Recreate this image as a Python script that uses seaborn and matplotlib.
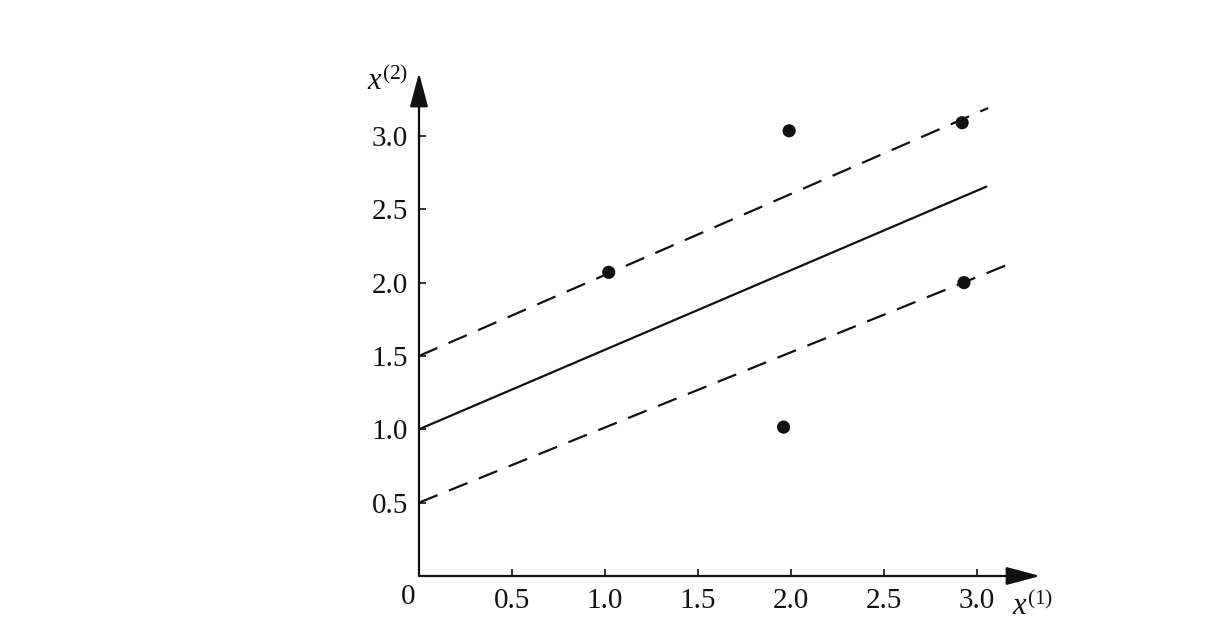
import seaborn as sns
import numpy as np
import matplotlib.pyplot as plt
import pandas as pd

# sample points
pt_x1 = [1.02, 1.99, 2.92, 2.93, 1.96]
pt_x2 = [2.07, 3.035, 3.09, 2.00, 1.015]

# separating line and the two margin lines (start / end points)
sep_x1 = [0.0, 3.05]
sep_x2 = [1.0, 2.654]
upper_x1 = [0.0, 3.06]
upper_x2 = [1.5, 3.19]
lower_x1 = [0.0, 3.18]
lower_x2 = [0.5, 2.13]

xticks = [0.5, 1.0, 1.5, 2.0, 2.5, 3.0]
yticks = [0.5, 1.0, 1.5, 2.0, 2.5, 3.0]

sns.set_style('white')
plt.rcParams['font.family'] = ['Liberation Serif', 'DejaVu Serif']
plt.rcParams['mathtext.fontset'] = 'custom'
plt.rcParams['mathtext.rm'] = 'Liberation Serif'
plt.rcParams['mathtext.it'] = 'Liberation Serif:italic'

W, H = 1207, 635
fig = plt.figure(figsize=(W / 100, H / 100), dpi=100)
ux, uy = 186.0, 146.7  # pixels per unit
x0, y0 = 419, 635 - 576
xmax, ymax = 3.4, 3.5
ax = fig.add_axes([x0 / W, y0 / H, xmax * ux / W, ymax * uy / H])
ax.set_xlim(0, xmax)
ax.set_ylim(0, ymax)

pts = pd.DataFrame({'x1': pt_x1, 'x2': pt_x2})
sns.scatterplot(data=pts, x='x1', y='x2', ax=ax, s=90, color='#111111',
                edgecolor='none', zorder=5)
sns.lineplot(x=sep_x1, y=sep_x2, ax=ax, color='#111111', lw=1.6)
sns.lineplot(x=upper_x1, y=upper_x2, ax=ax, color='#111111', lw=1.6,
             linestyle=(0, (9, 5.5)))
sns.lineplot(x=lower_x1, y=lower_x2, ax=ax, color='#111111', lw=1.6,
             linestyle=(0, (9, 5.5)))

for s in ax.spines.values():
    s.set_visible(False)

# axes with arrow heads
arrow = dict(arrowstyle='-|>,head_length=1.5,head_width=0.4', color='#111111',
             lw=1.6, shrinkA=0, shrinkB=0, mutation_scale=14)
ax.annotate('', xy=(3.34, 0), xytext=(0, 0), arrowprops=arrow,
            annotation_clip=False)
ax.annotate('', xy=(0, 3.43), xytext=(0, 0), arrowprops=arrow,
            annotation_clip=False)

ax.set_xticks(xticks)
ax.set_xticklabels([f'{v:.1f}' for v in xticks])
ax.set_yticks(yticks)
ax.set_yticklabels([f'{v:.1f}' for v in yticks])
ax.tick_params(direction='in', length=5, width=1.2, color='#111111',
               labelsize=21, labelcolor='#111111', bottom=True, left=True)
ax.tick_params(axis='x', pad=9)
ax.tick_params(axis='y', pad=8)
ax.set_xlabel('')
ax.set_ylabel('')

ax.text(-0.06, -0.14, '0', fontsize=21, ha='center', va='center',
        color='#111111', clip_on=False)
ax.text(3.30, -0.21, r'$x^{(1)}$', fontsize=22, ha='center', va='center',
        color='#111111', clip_on=False)
ax.text(-0.167, 3.37, r'$x^{(2)}$', fontsize=22, ha='center', va='center',
        color='#111111', clip_on=False)

fig.savefig('out.png', dpi=100)
